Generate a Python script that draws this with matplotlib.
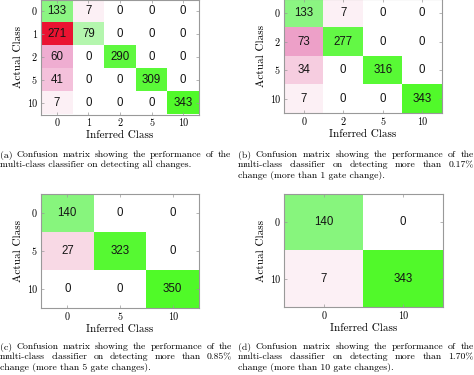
import numpy as np
from matplotlib import pyplot as plt
from matplotlib.colors import LinearSegmentedColormap

# confusion matrices (rows = actual, cols = inferred)
classes_a = ['0', '1', '2', '5', '10']
cm_a = [[133, 7, 0, 0, 0],
        [271, 79, 0, 0, 0],
        [60, 0, 290, 0, 0],
        [41, 0, 0, 309, 0],
        [7, 0, 0, 0, 343]]

classes_b = ['0', '2', '5', '10']
cm_b = [[133, 7, 0, 0],
        [73, 277, 0, 0],
        [34, 0, 316, 0],
        [7, 0, 0, 343]]

classes_c = ['0', '5', '10']
cm_c = [[140, 0, 0],
        [27, 323, 0],
        [0, 0, 350]]

classes_d = ['0', '10']
cm_d = [[140, 0],
        [7, 343]]

captions = [
    ["(a) Confusion matrix showing the performance of the",
     "multi-class classifier on detecting all changes."],
    ["(b) Confusion matrix showing the performance of the",
     "multi-class classifier on detecting more than 0.17%",
     "change (more than 1 gate change)."],
    ["(c) Confusion matrix showing the performance of the",
     "multi-class classifier on detecting more than 0.85%",
     "change (more than 5 gate changes)."],
    ["(d) Confusion matrix showing the performance of the",
     "multi-class classifier on detecting more than 1.70%",
     "change (more than 10 gate changes)."],
]

ROW_TOTAL = 350.

def rgb(r, g, b):
    return (r / 255., g / 255., b / 255.)

red_cm = LinearSegmentedColormap.from_list('offdiag', [
    (0.0, 'white'), (0.02, rgb(252, 240, 245)), (0.08, rgb(248, 215, 228)),
    (0.11, rgb(245, 195, 220)), (0.19, rgb(238, 165, 205)),
    (0.77, rgb(235, 20, 50)), (1.0, rgb(230, 0, 40))])
green_cm = LinearSegmentedColormap.from_list('diag', [
    (0.0, 'white'), (0.23, rgb(178, 246, 172)), (0.4, rgb(135, 245, 125)),
    (1.0, rgb(80, 250, 40))])

SERIF = 'cmr10'
SANS = 'Liberation Sans'

##########################################
def plotConfusion(ax, classes, cm):
    cm = np.array(cm, dtype=float)
    n = len(classes)
    img = np.ones((n, n, 3))
    for i in range(n):
        for j in range(n):
            t = cm[i, j] / ROW_TOTAL
            cmap = green_cm if i == j else red_cm
            img[i, j] = cmap(t)[:3]
            ax.text(j, i, f'{int(cm[i, j])}', ha='center', va='center',
                    fontsize=8.3, family=SANS, color='#151515')
    ax.imshow(img, aspect='auto', interpolation='nearest')
    ax.set_xticks(range(n))
    ax.set_yticks(range(n))
    ax.set_xticklabels(classes, family=SERIF, fontsize=7.3)
    ax.set_yticklabels(classes, family=SERIF, fontsize=7.3)
    ax.tick_params(direction='in', length=2, width=0.5, color='#999999',
                   top=True, right=True, pad=3)
    for s in ax.spines.values():
        s.set_color('#999999')
        s.set_linewidth(0.8)
    ax.set_xlabel('Inferred Class', family=SERIF, fontsize=8, labelpad=2)
    ax.set_ylabel('Actual Class', family=SERIF, fontsize=8, labelpad=3)
    return
##########################################
def justifiedCaption(fig, lines, x0, x1, ytop, dy, fs=7.0):
    W, H = fig.get_size_inches() * fig.dpi
    r = fig.canvas.get_renderer()
    for k, line in enumerate(lines):
        y = 1 - (ytop + k * dy) / H
        if k == len(lines) - 1:
            # last line of a paragraph is not stretched
            fig.text(x0 / W, y, line, fontsize=fs, family=SERIF, va='center')
            continue
        words = line.split(' ')
        texts = [fig.text(0, y, w, fontsize=fs, family=SERIF, va='center')
                 for w in words]
        widths = [t.get_window_extent(r).width for t in texts]
        gap = max(fs * fig.dpi / 72. * 0.35,
                  ((x1 - x0) - sum(widths)) / (len(words) - 1))
        x = x0
        for t, w in zip(texts, widths):
            t.set_x(x / W)
            x += w + gap
    return
##########################################
def main():
    fig = plt.figure(figsize=(4.74, 3.75), dpi=100)
    W, H = 474., 375.
    boxes = [(41, 199, 0, 114.5), (284, 442, -1, 113),
             (41, 199, 194, 308), (284, 443, 194, 307)]
    data = [(classes_a, cm_a), (classes_b, cm_b),
            (classes_c, cm_c), (classes_d, cm_d)]
    for (l, rr, t, b), (cl, cm) in zip(boxes, data):
        ax = fig.add_axes([l / W, 1 - b / H, (rr - l) / W, (b - t) / H])
        plotConfusion(ax, cl, cm)

    fig.canvas.draw()
    capx = [(0, 231), (238, 474), (0, 232), (238, 474)]
    capy = [155, 155, 347, 347]
    for lines, (x0, x1), yt in zip(captions, capx, capy):
        justifiedCaption(fig, lines, x0, x1, yt, 10)

    plt.savefig('out.png', dpi=100)
    return

if __name__ == "__main__":
    main()
